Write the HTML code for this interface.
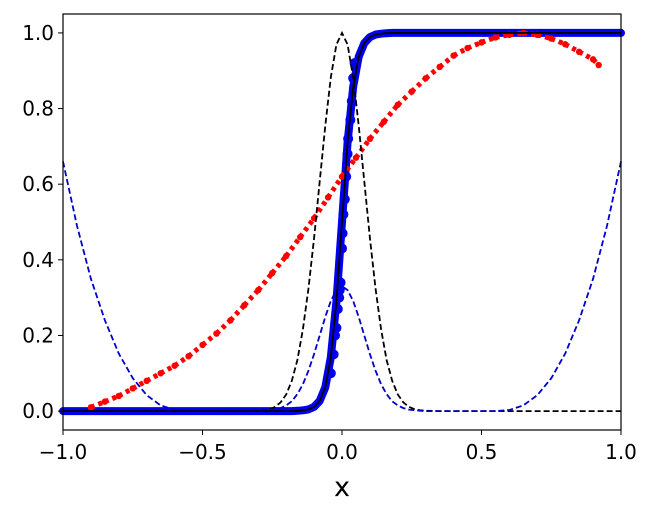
<!DOCTYPE html>
<html><head><meta charset="utf-8"><style>
body{margin:0;background:#fff}
svg text{font-family:"DejaVu Sans","Liberation Sans",sans-serif;fill:#000}
</style></head><body>
<svg id="chart" width="654" height="516" xmlns="http://www.w3.org/2000/svg">
<g id="marks"></g>
<g id="axes"></g>
</svg>
<script>
const lineX=[-1,-0.95,-0.9,-0.85,-0.8,-0.75,-0.7,-0.65,-0.6,-0.55,-0.5,-0.45,-0.4,-0.35,
-0.3,-0.28,-0.26,-0.24,-0.22,-0.2,-0.18,-0.16,-0.14,-0.12,-0.1,-0.08,-0.06,-0.04,-0.02,0,0.02,0.04,0.06,0.08,0.1,0.12,0.14,0.16,0.18,0.2,0.22,0.24,0.26,0.28,0.3,
0.35,0.4,0.45,0.5,0.55,0.6,0.65,0.7,0.75,0.8,0.85,0.9,0.95,1];
const sigmoidY=[0,0,0,0,0,0,0,0,0,0,0,0,0,0,
0,0,0,0,0,0,0,0.0007,0.002,0.0045,0.011,0.027,0.063,0.142,0.289,0.5,0.711,0.858,0.937,0.973,0.989,0.9955,0.998,0.9993,1,1,1,1,1,1,1,
1,1,1,1,1,1,1,1,1,1,1,1,1,1];
const gaussY=[0,0,0,0,0,0,0,0,0,0,0,0,0,0,
0.001,0.002,0.005,0.011,0.023,0.044,0.08,0.135,0.216,0.325,0.458,0.607,0.755,0.882,0.969,1,0.969,0.882,0.755,0.607,0.458,0.325,0.216,0.135,0.08,0.044,0.023,0.011,0.005,0.002,0.001,
0,0,0,0,0,0,0,0,0,0,0,0,0,0];
const blueDashY=[0.66,0.49,0.35,0.24,0.152,0.087,0.042,0.015,0.003,0,0,0,0,0,
0,0.001,0.002,0.004,0.008,0.015,0.026,0.045,0.071,0.107,0.151,0.2,0.249,0.291,0.32,0.33,0.32,0.291,0.249,0.2,0.151,0.107,0.071,0.045,0.026,0.015,0.008,0.004,0.002,0.001,0,
0,0,0,0,0,0.003,0.015,0.042,0.087,0.152,0.24,0.35,0.49,0.66];
const blueDotX=[-0.04,-0.03,-0.025,-0.02,-0.015,-0.01,-0.008,-0.005,0,0.002,0.005,0.01,0.015,0.02,0.022,0.03,0.035,0.04,0.045];
const blueDotY=[0.1,0.15,0.2,0.22,0.27,0.3,0.32,0.34,0.43,0.47,0.52,0.56,0.62,0.68,0.72,0.77,0.82,0.88,0.92];
const redX=[-0.9,-0.85,-0.8,-0.75,-0.7,-0.65,-0.6,-0.55,-0.5,-0.45,-0.4,-0.35,-0.3,-0.25,-0.2,-0.15,-0.1,-0.05,0,0.05,0.1,0.15,0.2,0.25,0.3,0.35,0.4,0.45,0.5,0.55,0.6,0.65,0.7,0.75,0.8,0.85,0.9,0.92];
const redY=[0.01,0.025,0.04,0.06,0.08,0.1,0.12,0.145,0.175,0.205,0.24,0.28,0.32,0.365,0.41,0.46,0.51,0.565,0.62,0.67,0.72,0.765,0.81,0.845,0.88,0.91,0.94,0.96,0.975,0.988,0.995,1.0,0.995,0.985,0.97,0.95,0.93,0.915];
const xTicks=[-1,-0.5,0,0.5,1];
const xTickLabels=["\u22121.0","\u22120.5","0.0","0.5","1.0"];
const yTicks=[0,0.2,0.4,0.6,0.8,1.0];
const yTickLabels=["0.0","0.2","0.4","0.6","0.8","1.0"];

const L=63,R=621,T=14,B=430;
const sx=v=>L+(v+1)/2*(R-L);
const sy=v=>B-(v+0.05)/1.1*(B-T);
const NS="http://www.w3.org/2000/svg";
const marks=document.getElementById('marks'),axes=document.getElementById('axes');
function mk(tag,attrs,parent){const e=document.createElementNS(NS,tag);for(const k in attrs)e.setAttribute(k,attrs[k]);parent.appendChild(e);return e;}
function pts(xs,ys){return xs.map((x,i)=>sx(x).toFixed(1)+','+sy(ys[i]).toFixed(1)).join(' ');}

let band=mk('polyline',{points:pts(lineX,sigmoidY),fill:'none',stroke:'#0000ee',"stroke-width":8,"stroke-linejoin":"round","stroke-linecap":"round"},marks);


blueDotX.forEach((x,i)=>{const c=mk('circle',{cx:sx(x),cy:sy(blueDotY[i]),r:5,fill:'#0000ee'},marks);

});
redX.forEach((x,i)=>{const c=mk('circle',{cx:sx(x),cy:sy(redY[i]),r:3.2,fill:'#ff0000'},marks);

});
for(let i=0;i<redX.length-1;i++){const c=mk('line',{x1:sx(redX[i]),y1:sy(redY[i]),x2:sx(redX[i+1]),y2:sy(redY[i+1]),stroke:'#ff0000',"stroke-width":5,"stroke-dasharray":"4 4"},marks);

}
let g1=mk('polyline',{points:pts(lineX,gaussY),fill:'none',stroke:'#000',"stroke-width":1.8,"stroke-dasharray":"6 3"},marks);


let g2=mk('polyline',{points:pts(lineX,blueDashY),fill:'none',stroke:'#0000cc',"stroke-width":1.8,"stroke-dasharray":"6 3"},marks);


let g3=mk('polyline',{points:pts(lineX,sigmoidY),fill:'none',stroke:'#000',"stroke-width":1.8},marks);



let fr=mk('rect',{x:L,y:T,width:R-L,height:B-T,fill:'none',stroke:'#000',"stroke-width":1.2},axes);


xTicks.forEach((v,i)=>{mk('line',{x1:sx(v),x2:sx(v),y1:B,y2:B+5,stroke:'#000'},axes);
const t=mk('text',{x:sx(v),y:B+29,"text-anchor":"middle","font-size":20},axes);t.textContent=xTickLabels[i];

});
yTicks.forEach((v,i)=>{mk('line',{x1:L-5,x2:L,y1:sy(v),y2:sy(v),stroke:'#000'},axes);
const t=mk('text',{x:L-9,y:sy(v)+7,"text-anchor":"end","font-size":20},axes);t.textContent=yTickLabels[i];

});
const xl=mk('text',{x:342,y:496,"text-anchor":"middle","font-size":27},axes);xl.textContent='x';


</script>
</body></html>
